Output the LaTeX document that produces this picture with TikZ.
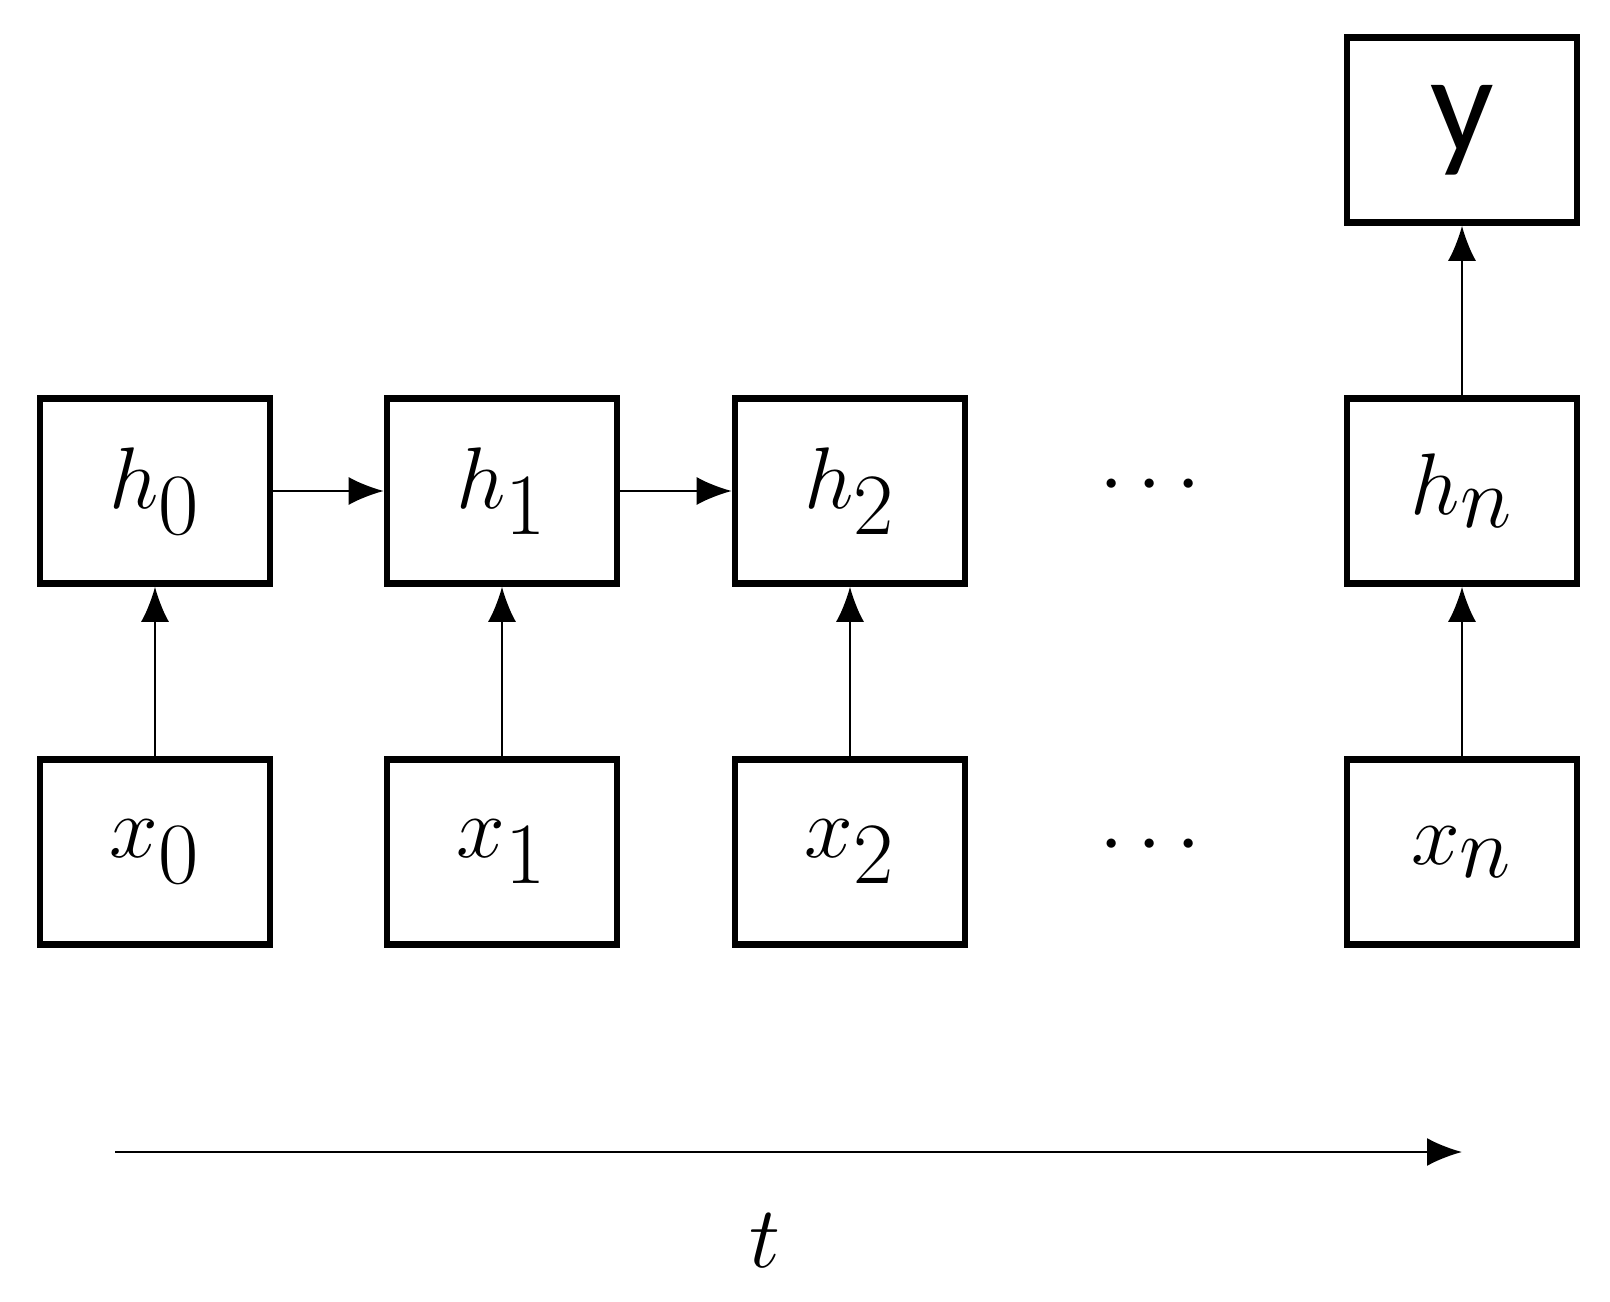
\documentclass[tikz,border=0pt]{standalone}
\usepackage{fontspec}
\newfontfamily\labelfont{Carlito}
\usetikzlibrary{positioning, arrows.meta}
\tikzset{
  cell/.style={draw, line width=1.9pt, minimum width=2.3cm, minimum height=1.85cm, inner sep=0pt, font=\fontsize{40}{48}\selectfont},
  flow/.style={line width=0.6pt, -{Latex[length=0.35cm,width=0.28cm]}}
}
\begin{document}
\begin{tikzpicture}
\useasboundingbox (0,0) rectangle (16.10,13.01);

% Hidden states
\node[cell] (h0) at (1.55,8.10) {$h_0$};
\node[cell] (h1) at (5.02,8.10) {$h_1$};
\node[cell] (h2) at (8.50,8.10) {$h_2$};
\node[cell] (hn) at (14.62,8.10) {$h_n$};

% Inputs
\node[cell] (x0) at (1.55,4.49) {$x_0$};
\node[cell] (x1) at (5.02,4.49) {$x_1$};
\node[cell] (x2) at (8.50,4.49) {$x_2$};
\node[cell] (xn) at (14.62,4.49) {$x_n$};

% Output
\node[cell, font=\labelfont\fontsize{40}{48}\selectfont] (y) at (14.62,11.71) {y};

% Dots
\node[font=\fontsize{24}{30}\selectfont] (hdots) at (11.50,8.15) {$\cdots$};
\node[font=\fontsize{24}{30}\selectfont] (xdots) at (11.50,4.55) {$\cdots$};

% Connections
\draw[flow] (h0) -- (h1);
\draw[flow] (h1) -- (h2);
\draw[flow] (x0) -- (h0);
\draw[flow] (x1) -- (h1);
\draw[flow] (x2) -- (h2);
\draw[flow] (xn) -- (hn);
\draw[flow] (hn) -- (y);

% Time axis
\coordinate (tstart) at (1.15,1.49);
\coordinate (tend) at (14.62,1.49);
\draw[flow] (tstart) -- (tend);
\node[font=\fontsize{40}{48}\selectfont] (t) at (7.65,0.60) {$t$};

\end{tikzpicture}
\end{document}
